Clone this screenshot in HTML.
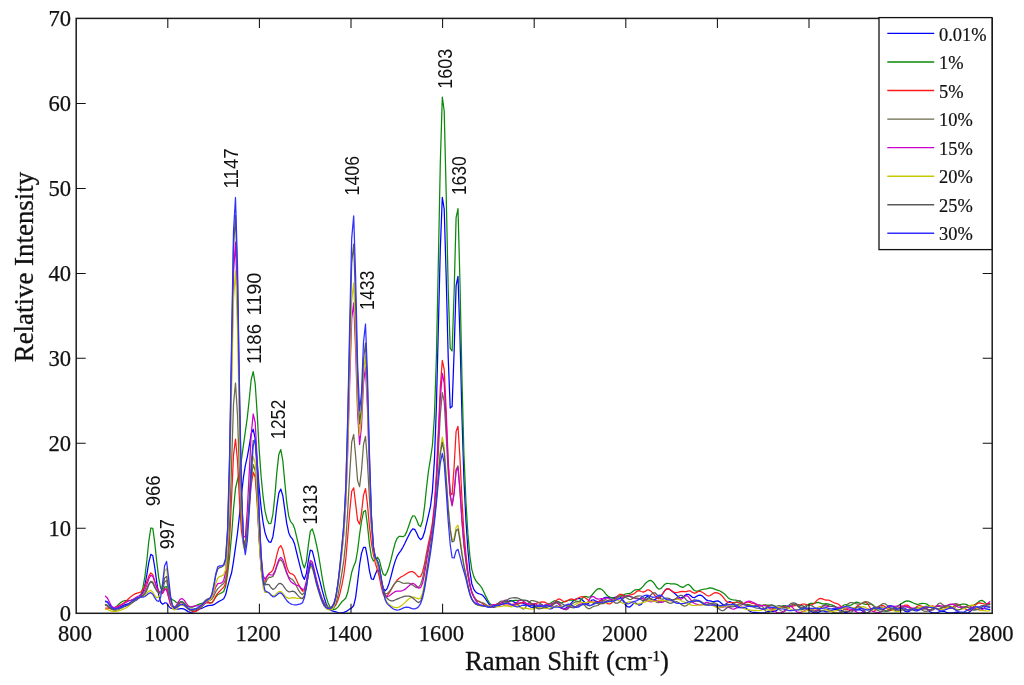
<!DOCTYPE html>
<html lang="en"><head><meta charset="utf-8"><title>Raman spectra</title>
<style>
html,body{margin:0;padding:0;background:#fff;}
body{width:1024px;height:685px;overflow:hidden;}
svg{display:block;}
.tk{font-family:"Liberation Serif",serif;font-size:22.6px;fill:#111;stroke:#111;stroke-width:0.25;}
.lb{font-family:"Liberation Serif",serif;font-size:26.4px;fill:#111;stroke:#111;stroke-width:0.3;}
.lg{font-family:"Liberation Serif",serif;font-size:18.4px;fill:#111;stroke:#111;stroke-width:0.2;}
.pk{font-family:"Liberation Sans",sans-serif;font-size:19.6px;fill:#111;}
.ax{stroke:#1c1c1c;stroke-width:1.5;fill:none;}
.tkl{stroke:#111;stroke-width:1.05;fill:none;}
.c{fill:none;stroke-width:1.25;stroke-linejoin:round;stroke-linecap:round;}
</style></head><body>
<svg width="1024" height="685" viewBox="0 0 1024 685">
<rect x="0" y="0" width="1024" height="685" fill="#fff"/>
<g class="curves">
<path class="c" stroke="#0000ff" d="M105.5,601.6 L107.5,602.2 L109.5,604.8 L111.4,607.4 L113.4,608.9 L115.4,609.1 L117.3,608.4 L119.3,607.4 L121.3,606.4 L123.2,605.5 L125.2,604.7 L127.2,604.1 L129.1,603.6 L131.1,602.8 L133.1,601.8 L135.1,600.8 L137.0,599.6 L139.0,598.1 L141.0,595.9 L142.9,592.0 L144.9,585.0 L146.9,574.4 L148.8,562.3 L150.8,554.3 L152.8,555.8 L154.7,567.0 L156.7,581.9 L158.7,594.8 L160.7,602.3 L162.6,604.2 L164.6,602.9 L166.6,603.0 L168.5,605.9 L170.5,608.2 L172.5,608.6 L174.4,608.5 L176.4,609.0 L178.4,609.1 L180.3,608.7 L182.3,608.6 L184.3,609.2 L186.3,610.4 L188.2,611.6 L190.2,612.3 L192.2,612.2 L194.1,611.6 L196.1,610.6 L198.1,609.7 L200.0,609.0 L202.0,608.2 L204.0,607.3 L206.0,606.3 L207.9,605.6 L209.9,605.4 L211.9,605.3 L213.8,604.7 L215.8,603.4 L217.8,602.1 L219.7,601.0 L221.7,600.0 L223.7,598.8 L225.6,595.0 L227.6,586.7 L229.6,579.3 L231.6,572.8 L233.5,561.3 L235.5,547.2 L237.5,533.1 L239.4,515.9 L241.4,495.5 L243.4,477.6 L245.3,465.7 L247.3,456.8 L249.3,445.7 L251.2,433.8 L253.2,429.2 L255.2,438.8 L257.2,461.5 L259.1,487.1 L261.1,507.7 L263.1,522.6 L265.0,532.6 L267.0,538.5 L269.0,541.9 L270.9,542.4 L272.9,536.7 L274.9,523.4 L276.8,506.6 L278.8,493.1 L280.8,489.1 L282.8,495.7 L284.7,509.1 L286.7,523.1 L288.7,532.7 L290.6,536.9 L292.6,539.2 L294.6,544.1 L296.5,552.0 L298.5,560.2 L300.5,568.2 L302.5,575.9 L304.4,579.4 L306.4,573.4 L308.4,560.2 L310.3,550.1 L312.3,550.9 L314.3,558.8 L316.2,567.3 L318.2,574.7 L320.2,582.2 L322.1,589.9 L324.1,597.2 L326.1,603.4 L328.1,607.7 L330.0,609.9 L332.0,610.8 L334.0,611.4 L335.9,611.9 L337.9,612.5 L339.9,612.8 L341.8,612.8 L343.8,612.4 L345.8,611.7 L347.7,610.4 L349.7,609.1 L351.7,607.9 L353.7,605.5 L355.6,597.7 L357.6,582.1 L359.6,564.7 L361.5,553.4 L363.5,547.4 L365.5,547.4 L367.4,557.2 L369.4,570.6 L371.4,579.0 L373.4,579.5 L375.3,574.3 L377.3,569.7 L379.3,571.8 L381.2,580.1 L383.2,588.0 L385.2,590.8 L387.1,588.6 L389.1,583.2 L391.1,576.1 L393.0,568.5 L395.0,561.6 L397.0,556.4 L399.0,553.2 L400.9,550.6 L402.9,547.3 L404.9,543.3 L406.8,539.2 L408.8,535.2 L410.8,531.3 L412.7,528.8 L414.7,529.4 L416.7,533.0 L418.6,537.4 L420.6,539.7 L422.6,537.8 L424.6,531.8 L426.5,523.6 L428.5,515.4 L430.5,506.4 L432.4,491.1 L434.4,460.4 L436.4,406.3 L438.3,330.1 L440.3,248.9 L442.3,197.3 L444.2,209.0 L446.2,277.2 L448.2,357.5 L450.2,408.1 L452.1,406.5 L454.1,351.9 L456.1,285.7 L458.0,276.3 L460.0,337.7 L462.0,417.4 L463.9,478.5 L465.9,519.6 L467.9,550.0 L469.9,571.4 L471.8,583.7 L473.8,589.4 L475.8,592.1 L477.7,593.4 L479.7,594.0 L481.7,594.6 L483.6,596.3 L485.6,599.0 L487.6,602.2 L489.5,604.8 L491.5,606.7 L493.5,607.4 L495.5,607.0 L497.4,605.7 L499.4,604.4 L501.4,603.8 L503.3,603.9 L505.3,603.6 L507.3,602.3 L509.2,600.9 L511.2,600.5 L513.2,601.4 L515.1,602.7 L517.1,603.3 L519.1,603.0 L521.1,602.8 L523.0,603.2 L525.0,604.1 L527.0,605.1 L528.9,606.2 L530.9,607.1 L532.9,607.3 L534.8,606.7 L536.8,605.9 L538.8,605.2 L540.7,604.8 L542.7,605.2 L544.7,606.5 L546.7,607.9 L548.6,608.7 L550.6,608.8 L552.6,608.1 L554.5,606.6 L556.5,605.8 L558.5,606.5 L560.4,607.8 L562.4,608.5 L564.4,608.5 L566.4,607.8 L568.3,606.2 L570.3,604.1 L572.3,601.9 L574.2,600.0 L576.2,598.8 L578.2,598.5 L580.1,598.7 L582.1,599.7 L584.1,601.8 L586.0,603.8 L588.0,603.8 L590.0,601.9 L592.0,600.0 L593.9,599.9 L595.9,601.2 L597.9,601.8 L599.8,601.0 L601.8,599.4 L603.8,598.1 L605.7,597.4 L607.7,597.3 L609.7,597.6 L611.6,597.9 L613.6,597.8 L615.6,597.2 L617.6,596.4 L619.5,596.5 L621.5,598.5 L623.5,601.8 L625.4,604.8 L627.4,606.7 L629.4,607.2 L631.3,605.8 L633.3,603.6 L635.3,602.8 L637.2,604.0 L639.2,605.2 L641.2,604.5 L643.2,601.7 L645.1,598.2 L647.1,596.4 L649.1,597.3 L651.0,599.2 L653.0,600.0 L655.0,599.4 L656.9,598.4 L658.9,597.4 L660.9,595.9 L662.9,593.4 L664.8,590.5 L666.8,588.8 L668.8,588.9 L670.7,590.3 L672.7,591.8 L674.7,593.4 L676.6,595.2 L678.6,597.0 L680.6,598.0 L682.5,597.4 L684.5,595.7 L686.5,594.3 L688.5,594.3 L690.4,595.6 L692.4,597.3 L694.4,597.6 L696.3,596.5 L698.3,595.4 L700.3,595.1 L702.2,595.9 L704.2,597.8 L706.2,599.9 L708.1,600.7 L710.1,600.8 L712.1,601.3 L714.1,601.6 L716.0,601.1 L718.0,600.9 L720.0,602.0 L721.9,603.9 L723.9,605.0 L725.9,604.1 L727.8,602.4 L729.8,601.7 L731.8,602.5 L733.8,604.5 L735.7,606.5 L737.7,607.6 L739.7,607.7 L741.6,607.4 L743.6,607.4 L745.6,608.0 L747.5,609.3 L749.5,611.0 L751.5,612.0 L753.4,612.3 L755.4,612.3 L757.4,612.6 L759.4,612.9 L761.3,612.9 L763.3,612.9 L765.3,612.6 L767.2,611.6 L769.2,611.1 L771.2,611.3 L773.1,611.6 L775.1,611.2 L777.1,610.1 L779.0,608.4 L781.0,606.9 L783.0,606.0 L785.0,605.9 L786.9,606.0 L788.9,606.0 L790.9,605.6 L792.8,605.0 L794.8,604.7 L796.8,605.2 L798.7,606.4 L800.7,607.5 L802.7,607.8 L804.6,607.8 L806.6,608.4 L808.6,609.8 L810.6,611.3 L812.5,612.2 L814.5,612.6 L816.5,612.9 L818.4,612.4 L820.4,611.3 L822.4,610.6 L824.3,611.2 L826.3,611.8 L828.3,611.7 L830.3,610.9 L832.2,610.1 L834.2,609.7 L836.2,609.4 L838.1,609.3 L840.1,609.6 L842.1,610.7 L844.0,612.1 L846.0,612.8 L848.0,612.0 L849.9,610.5 L851.9,609.8 L853.9,609.9 L855.9,610.1 L857.8,609.9 L859.8,609.7 L861.8,610.5 L863.7,612.4 L865.7,612.9 L867.7,612.9 L869.6,611.6 L871.6,609.1 L873.6,608.0 L875.5,608.1 L877.5,608.1 L879.5,607.5 L881.5,607.2 L883.4,607.5 L885.4,607.5 L887.4,607.3 L889.3,607.6 L891.3,608.8 L893.3,610.2 L895.2,610.6 L897.2,609.3 L899.2,607.7 L901.1,607.5 L903.1,609.2 L905.1,611.2 L907.1,612.0 L909.0,611.3 L911.0,610.4 L913.0,610.1 L914.9,610.6 L916.9,610.9 L918.9,610.1 L920.8,608.4 L922.8,607.0 L924.8,607.1 L926.8,608.9 L928.7,610.9 L930.7,612.2 L932.7,612.8 L934.6,612.9 L936.6,612.8 L938.6,612.2 L940.5,611.5 L942.5,611.1 L944.5,611.5 L946.4,612.4 L948.4,612.9 L950.4,612.9 L952.4,612.9 L954.3,612.5 L956.3,612.1 L958.3,612.5 L960.2,612.9 L962.2,612.9 L964.2,612.9 L966.1,612.9 L968.1,612.8 L970.1,611.6 L972.0,609.8 L974.0,608.1 L976.0,607.4 L978.0,607.5 L979.9,608.0 L981.9,608.4 L983.9,608.5 L985.8,608.8 L987.8,609.2 L989.8,609.5"/>
<path class="c" stroke="#0a8a0a" d="M105.5,604.7 L107.5,606.1 L109.5,608.1 L111.4,609.2 L113.4,608.8 L115.4,607.5 L117.3,605.7 L119.3,603.7 L121.3,602.0 L123.2,601.0 L125.2,600.7 L127.2,600.7 L129.1,600.6 L131.1,600.3 L133.1,599.8 L135.1,599.4 L137.0,598.8 L139.0,597.2 L141.0,594.0 L142.9,587.7 L144.9,576.6 L146.9,560.0 L148.8,541.3 L150.8,528.0 L152.8,528.4 L154.7,542.3 L156.7,561.2 L158.7,577.9 L160.7,588.3 L162.6,590.7 L164.6,587.1 L166.6,586.6 L168.5,592.7 L170.5,598.1 L172.5,599.7 L174.4,600.7 L176.4,602.5 L178.4,602.8 L180.3,601.9 L182.3,601.8 L184.3,603.2 L186.3,605.2 L188.2,606.7 L190.2,607.2 L192.2,607.1 L194.1,606.4 L196.1,605.5 L198.1,604.5 L200.0,603.8 L202.0,603.3 L204.0,602.8 L206.0,602.3 L207.9,602.3 L209.9,602.6 L211.9,602.4 L213.8,600.3 L215.8,597.0 L217.8,594.7 L219.7,593.8 L221.7,592.7 L223.7,591.4 L225.6,586.6 L227.6,573.9 L229.6,556.5 L231.6,535.1 L233.5,508.9 L235.5,488.5 L237.5,479.6 L239.4,472.5 L241.4,460.2 L243.4,445.3 L245.3,431.8 L247.3,417.6 L249.3,398.8 L251.2,379.5 L253.2,371.6 L255.2,383.8 L257.2,414.1 L259.1,448.6 L261.1,476.4 L263.1,496.7 L265.0,510.9 L267.0,519.4 L269.0,523.7 L270.9,523.3 L272.9,514.3 L274.9,495.6 L276.8,472.6 L278.8,454.4 L280.8,449.6 L282.8,460.6 L284.7,481.2 L286.7,502.2 L288.7,516.1 L290.6,521.6 L292.6,523.8 L294.6,528.4 L296.5,536.4 L298.5,544.9 L300.5,553.8 L302.5,563.2 L304.4,567.9 L306.4,561.2 L308.4,544.9 L310.3,531.1 L312.3,529.0 L314.3,535.1 L316.2,543.5 L318.2,553.2 L320.2,565.0 L322.1,577.1 L324.1,587.8 L326.1,596.5 L328.1,602.9 L330.0,606.9 L332.0,609.0 L334.0,609.6 L335.9,608.9 L337.9,607.1 L339.9,604.4 L341.8,601.8 L343.8,600.1 L345.8,598.0 L347.7,592.5 L349.7,582.7 L351.7,572.3 L353.7,566.2 L355.6,561.8 L357.6,550.5 L359.6,534.4 L361.5,521.4 L363.5,511.8 L365.5,510.5 L367.4,524.6 L369.4,543.9 L371.4,556.7 L373.4,561.0 L375.3,559.5 L377.3,557.1 L379.3,559.8 L381.2,567.6 L383.2,574.3 L385.2,575.6 L387.1,572.3 L389.1,566.5 L391.1,559.2 L393.0,551.1 L395.0,543.6 L397.0,538.5 L399.0,536.4 L400.9,536.4 L402.9,536.7 L404.9,535.4 L406.8,531.6 L408.8,525.8 L410.8,519.8 L412.7,515.8 L414.7,516.0 L416.7,520.1 L418.6,525.0 L420.6,526.5 L422.6,520.5 L424.6,506.4 L426.5,487.8 L428.5,470.9 L430.5,458.7 L432.4,445.5 L434.4,416.5 L436.4,356.8 L438.3,264.8 L440.3,162.9 L442.3,97.2 L444.2,111.0 L446.2,194.2 L448.2,289.0 L450.2,348.3 L452.1,351.0 L454.1,292.8 L456.1,217.6 L458.0,208.6 L460.0,283.7 L462.0,380.1 L463.9,453.1 L465.9,500.8 L467.9,533.9 L469.9,556.3 L471.8,569.4 L473.8,576.6 L475.8,580.6 L477.7,583.0 L479.7,585.0 L481.7,587.7 L483.6,591.5 L485.6,595.9 L487.6,599.9 L489.5,603.1 L491.5,605.0 L493.5,605.5 L495.5,605.3 L497.4,605.0 L499.4,604.5 L501.4,603.4 L503.3,602.2 L505.3,601.5 L507.3,601.4 L509.2,601.4 L511.2,601.1 L513.2,600.6 L515.1,600.3 L517.1,600.4 L519.1,600.4 L521.1,600.3 L523.0,600.2 L525.0,600.2 L527.0,600.5 L528.9,601.9 L530.9,604.1 L532.9,605.9 L534.8,606.8 L536.8,607.2 L538.8,607.1 L540.7,606.6 L542.7,606.0 L544.7,605.4 L546.7,604.8 L548.6,604.1 L550.6,603.2 L552.6,601.7 L554.5,600.7 L556.5,601.1 L558.5,602.3 L560.4,603.0 L562.4,602.6 L564.4,601.5 L566.4,600.8 L568.3,600.5 L570.3,600.1 L572.3,599.8 L574.2,600.2 L576.2,601.2 L578.2,601.7 L580.1,600.8 L582.1,598.5 L584.1,596.7 L586.0,596.5 L588.0,597.1 L590.0,596.8 L592.0,595.0 L593.9,592.6 L595.9,590.3 L597.9,588.8 L599.8,588.6 L601.8,589.5 L603.8,591.4 L605.7,593.9 L607.7,596.0 L609.7,597.1 L611.6,597.7 L613.6,598.3 L615.6,598.3 L617.6,597.4 L619.5,596.3 L621.5,595.6 L623.5,594.8 L625.4,594.0 L627.4,593.7 L629.4,593.6 L631.3,592.7 L633.3,591.0 L635.3,589.8 L637.2,589.7 L639.2,589.6 L641.2,588.4 L643.2,586.1 L645.1,583.8 L647.1,581.9 L649.1,580.6 L651.0,580.4 L653.0,581.9 L655.0,584.6 L656.9,587.6 L658.9,589.2 L660.9,588.5 L662.9,586.3 L664.8,584.3 L666.8,583.4 L668.8,583.5 L670.7,583.8 L672.7,583.8 L674.7,583.9 L676.6,584.3 L678.6,585.4 L680.6,586.7 L682.5,587.4 L684.5,586.6 L686.5,585.0 L688.5,584.4 L690.4,585.9 L692.4,588.5 L694.4,590.5 L696.3,591.1 L698.3,590.9 L700.3,590.2 L702.2,589.5 L704.2,589.2 L706.2,589.0 L708.1,588.3 L710.1,587.8 L712.1,588.1 L714.1,588.9 L716.0,589.7 L718.0,590.3 L720.0,591.0 L721.9,592.1 L723.9,593.4 L725.9,595.3 L727.8,597.4 L729.8,599.0 L731.8,599.7 L733.8,600.0 L735.7,600.2 L737.7,600.5 L739.7,601.3 L741.6,603.0 L743.6,604.4 L745.6,604.6 L747.5,604.4 L749.5,605.1 L751.5,606.2 L753.4,606.7 L755.4,606.2 L757.4,605.5 L759.4,605.4 L761.3,605.5 L763.3,605.2 L765.3,604.9 L767.2,605.1 L769.2,605.3 L771.2,605.1 L773.1,605.2 L775.1,606.3 L777.1,607.7 L779.0,608.1 L781.0,607.0 L783.0,605.8 L785.0,605.9 L786.9,607.2 L788.9,607.6 L790.9,606.1 L792.8,604.4 L794.8,604.0 L796.8,605.1 L798.7,607.1 L800.7,608.9 L802.7,609.5 L804.6,608.6 L806.6,606.4 L808.6,604.3 L810.6,603.3 L812.5,603.4 L814.5,603.4 L816.5,602.7 L818.4,602.3 L820.4,603.1 L822.4,603.9 L824.3,603.8 L826.3,603.7 L828.3,604.2 L830.3,604.7 L832.2,605.1 L834.2,606.1 L836.2,607.4 L838.1,608.0 L840.1,607.5 L842.1,606.2 L844.0,605.0 L846.0,604.5 L848.0,605.1 L849.9,605.5 L851.9,604.7 L853.9,603.2 L855.9,602.2 L857.8,602.3 L859.8,603.0 L861.8,603.5 L863.7,603.8 L865.7,604.3 L867.7,604.3 L869.6,603.9 L871.6,604.1 L873.6,605.6 L875.5,607.5 L877.5,608.7 L879.5,609.1 L881.5,609.2 L883.4,609.7 L885.4,610.5 L887.4,610.9 L889.3,610.8 L891.3,610.1 L893.3,608.9 L895.2,607.7 L897.2,606.4 L899.2,605.0 L901.1,603.7 L903.1,602.6 L905.1,601.4 L907.1,600.8 L909.0,601.1 L911.0,601.9 L913.0,602.8 L914.9,603.7 L916.9,604.3 L918.9,604.2 L920.8,603.6 L922.8,603.4 L924.8,603.5 L926.8,604.1 L928.7,605.5 L930.7,607.1 L932.7,607.8 L934.6,607.3 L936.6,606.4 L938.6,606.2 L940.5,606.9 L942.5,607.5 L944.5,607.5 L946.4,607.4 L948.4,607.5 L950.4,607.9 L952.4,608.1 L954.3,607.5 L956.3,606.3 L958.3,605.2 L960.2,604.5 L962.2,604.1 L964.2,604.0 L966.1,604.4 L968.1,605.4 L970.1,606.2 L972.0,606.0 L974.0,605.0 L976.0,603.8 L978.0,602.3 L979.9,600.8 L981.9,600.4 L983.9,601.5 L985.8,603.3 L987.8,604.3 L989.8,603.9"/>
<path class="c" stroke="#ff1a1a" d="M105.5,608.2 L107.5,608.0 L109.5,608.4 L111.4,608.6 L113.4,608.4 L115.4,607.6 L117.3,606.6 L119.3,605.6 L121.3,604.5 L123.2,603.2 L125.2,601.8 L127.2,600.0 L129.1,598.2 L131.1,596.4 L133.1,595.0 L135.1,593.9 L137.0,593.2 L139.0,592.7 L141.0,591.8 L142.9,589.9 L144.9,586.6 L146.9,581.6 L148.8,576.1 L150.8,572.9 L152.8,574.8 L154.7,581.0 L156.7,587.3 L158.7,591.4 L160.7,593.7 L162.6,592.7 L164.6,588.7 L166.6,589.1 L168.5,596.9 L170.5,604.3 L172.5,607.3 L174.4,607.7 L176.4,607.3 L178.4,605.9 L180.3,604.4 L182.3,604.2 L184.3,605.4 L186.3,607.1 L188.2,608.9 L190.2,610.3 L192.2,611.3 L194.1,611.6 L196.1,611.3 L198.1,610.2 L200.0,608.4 L202.0,606.2 L204.0,604.1 L206.0,602.8 L207.9,602.6 L209.9,603.1 L211.9,602.8 L213.8,600.1 L215.8,596.1 L217.8,593.1 L219.7,591.2 L221.7,589.1 L223.7,587.3 L225.6,583.3 L227.6,569.2 L229.6,539.9 L231.6,497.5 L233.5,455.2 L235.5,439.1 L237.5,460.7 L239.4,499.5 L241.4,530.8 L243.4,544.1 L245.3,541.2 L247.3,527.3 L249.3,506.6 L251.2,485.1 L253.2,472.2 L255.2,477.3 L257.2,503.1 L259.1,538.8 L261.1,567.9 L263.1,581.2 L265.0,581.2 L267.0,576.4 L269.0,573.3 L270.9,572.3 L272.9,569.8 L274.9,563.7 L276.8,555.2 L278.8,547.9 L280.8,545.6 L282.8,549.7 L284.7,558.0 L286.7,566.5 L288.7,571.9 L290.6,573.7 L292.6,574.1 L294.6,576.0 L296.5,580.1 L298.5,584.4 L300.5,588.1 L302.5,591.1 L304.4,590.6 L306.4,583.2 L308.4,571.0 L310.3,562.9 L312.3,564.8 L314.3,572.7 L316.2,580.7 L318.2,587.7 L320.2,594.5 L322.1,600.7 L324.1,605.0 L326.1,607.3 L328.1,608.3 L330.0,608.7 L332.0,608.5 L334.0,607.5 L335.9,604.9 L337.9,600.3 L339.9,593.7 L341.8,585.6 L343.8,575.0 L345.8,559.2 L347.7,537.0 L349.7,511.7 L351.7,491.3 L353.7,487.9 L355.6,503.4 L357.6,520.4 L359.6,524.1 L361.5,513.0 L363.5,495.1 L365.5,488.6 L367.4,503.8 L369.4,526.1 L371.4,542.9 L373.4,554.6 L375.3,563.2 L377.3,569.5 L379.3,576.8 L381.2,586.3 L383.2,594.3 L385.2,597.3 L387.1,596.0 L389.1,592.9 L391.1,589.6 L393.0,586.2 L395.0,583.0 L397.0,580.3 L399.0,578.4 L400.9,577.0 L402.9,576.0 L404.9,574.8 L406.8,573.5 L408.8,572.3 L410.8,571.6 L412.7,571.7 L414.7,572.9 L416.7,575.1 L418.6,577.0 L420.6,576.4 L422.6,572.0 L424.6,563.6 L426.5,553.0 L428.5,542.8 L430.5,533.8 L432.4,522.8 L434.4,504.4 L436.4,474.0 L438.3,432.0 L440.3,387.6 L442.3,360.3 L444.2,369.5 L446.2,411.4 L448.2,460.5 L450.2,492.8 L452.1,494.8 L454.1,466.7 L456.1,431.4 L458.0,426.3 L460.0,458.7 L462.0,500.3 L463.9,532.1 L465.9,554.1 L467.9,571.1 L469.9,583.8 L471.8,591.8 L473.8,596.5 L475.8,599.4 L477.7,600.9 L479.7,601.7 L481.7,602.8 L483.6,604.5 L485.6,605.9 L487.6,606.6 L489.5,606.8 L491.5,606.7 L493.5,606.1 L495.5,604.8 L497.4,603.6 L499.4,603.4 L501.4,604.0 L503.3,604.8 L505.3,605.1 L507.3,605.2 L509.2,605.0 L511.2,604.5 L513.2,604.2 L515.1,604.1 L517.1,604.1 L519.1,603.7 L521.1,602.9 L523.0,602.4 L525.0,602.8 L527.0,604.0 L528.9,604.8 L530.9,605.0 L532.9,604.6 L534.8,604.0 L536.8,603.2 L538.8,602.6 L540.7,602.1 L542.7,601.9 L544.7,602.1 L546.7,603.2 L548.6,604.8 L550.6,605.8 L552.6,605.3 L554.5,603.0 L556.5,600.3 L558.5,598.9 L560.4,599.3 L562.4,600.8 L564.4,601.8 L566.4,601.4 L568.3,600.0 L570.3,599.0 L572.3,599.2 L574.2,599.7 L576.2,599.3 L578.2,598.0 L580.1,597.0 L582.1,596.7 L584.1,597.2 L586.0,598.3 L588.0,600.0 L590.0,601.4 L592.0,602.0 L593.9,602.0 L595.9,602.0 L597.9,601.8 L599.8,601.1 L601.8,600.4 L603.8,600.8 L605.7,602.3 L607.7,603.7 L609.7,604.0 L611.6,602.9 L613.6,600.8 L615.6,598.2 L617.6,595.9 L619.5,594.4 L621.5,594.4 L623.5,595.3 L625.4,596.0 L627.4,595.8 L629.4,595.1 L631.3,594.7 L633.3,594.2 L635.3,592.7 L637.2,591.1 L639.2,590.6 L641.2,591.5 L643.2,592.2 L645.1,591.4 L647.1,589.9 L649.1,589.9 L651.0,591.3 L653.0,593.1 L655.0,595.6 L656.9,598.1 L658.9,598.9 L660.9,596.9 L662.9,593.5 L664.8,590.6 L666.8,589.1 L668.8,588.9 L670.7,590.0 L672.7,591.6 L674.7,592.5 L676.6,592.6 L678.6,592.2 L680.6,591.6 L682.5,591.3 L684.5,591.6 L686.5,591.7 L688.5,590.9 L690.4,590.9 L692.4,592.4 L694.4,593.3 L696.3,592.6 L698.3,591.4 L700.3,591.4 L702.2,592.3 L704.2,593.5 L706.2,595.0 L708.1,596.0 L710.1,595.6 L712.1,594.2 L714.1,592.9 L716.0,592.6 L718.0,593.1 L720.0,594.0 L721.9,595.7 L723.9,598.2 L725.9,600.8 L727.8,602.3 L729.8,602.5 L731.8,602.5 L733.8,602.5 L735.7,602.4 L737.7,602.5 L739.7,602.8 L741.6,603.4 L743.6,603.6 L745.6,602.7 L747.5,602.0 L749.5,602.5 L751.5,603.2 L753.4,603.5 L755.4,604.2 L757.4,605.4 L759.4,606.1 L761.3,605.9 L763.3,605.4 L765.3,605.3 L767.2,605.9 L769.2,606.9 L771.2,608.0 L773.1,608.7 L775.1,608.8 L777.1,608.5 L779.0,607.9 L781.0,607.1 L783.0,606.5 L785.0,606.7 L786.9,607.1 L788.9,606.9 L790.9,606.5 L792.8,606.1 L794.8,605.7 L796.8,605.5 L798.7,605.2 L800.7,604.7 L802.7,604.0 L804.6,604.0 L806.6,604.6 L808.6,605.0 L810.6,605.0 L812.5,604.6 L814.5,603.2 L816.5,600.9 L818.4,599.1 L820.4,598.4 L822.4,598.8 L824.3,599.6 L826.3,600.1 L828.3,600.2 L830.3,600.7 L832.2,601.8 L834.2,602.8 L836.2,603.3 L838.1,604.0 L840.1,605.6 L842.1,607.5 L844.0,608.8 L846.0,609.3 L848.0,609.8 L849.9,610.2 L851.9,610.0 L853.9,608.8 L855.9,607.2 L857.8,605.7 L859.8,604.5 L861.8,603.3 L863.7,602.3 L865.7,602.1 L867.7,603.7 L869.6,607.0 L871.6,610.4 L873.6,611.7 L875.5,610.2 L877.5,607.6 L879.5,605.9 L881.5,605.4 L883.4,605.7 L885.4,606.9 L887.4,608.9 L889.3,610.3 L891.3,610.2 L893.3,609.2 L895.2,608.5 L897.2,608.5 L899.2,608.2 L901.1,607.2 L903.1,606.0 L905.1,605.2 L907.1,605.1 L909.0,606.1 L911.0,607.9 L913.0,609.1 L914.9,608.3 L916.9,606.5 L918.9,605.5 L920.8,605.9 L922.8,606.8 L924.8,607.5 L926.8,607.7 L928.7,607.4 L930.7,606.4 L932.7,605.8 L934.6,606.7 L936.6,608.6 L938.6,609.7 L940.5,609.1 L942.5,607.6 L944.5,607.0 L946.4,607.4 L948.4,608.2 L950.4,608.5 L952.4,607.6 L954.3,605.8 L956.3,604.4 L958.3,604.4 L960.2,605.7 L962.2,607.0 L964.2,608.1 L966.1,609.4 L968.1,610.4 L970.1,609.9 L972.0,608.2 L974.0,606.2 L976.0,604.5 L978.0,603.2 L979.9,602.8 L981.9,603.3 L983.9,603.9 L985.8,604.0 L987.8,603.5 L989.8,603.3"/>
<path class="c" stroke="#6a6a4c" d="M105.5,604.5 L107.5,605.2 L109.5,607.2 L111.4,609.1 L113.4,610.1 L115.4,610.3 L117.3,610.0 L119.3,609.2 L121.3,608.2 L123.2,607.1 L125.2,606.1 L127.2,605.2 L129.1,604.4 L131.1,603.4 L133.1,602.0 L135.1,600.5 L137.0,599.0 L139.0,597.9 L141.0,597.0 L142.9,596.1 L144.9,594.1 L146.9,590.2 L148.8,585.0 L150.8,581.3 L152.8,581.9 L154.7,586.0 L156.7,590.3 L158.7,592.9 L160.7,593.8 L162.6,590.1 L164.6,582.1 L166.6,580.4 L168.5,590.0 L170.5,601.0 L172.5,606.5 L174.4,607.4 L176.4,606.0 L178.4,603.9 L180.3,602.4 L182.3,602.5 L184.3,604.4 L186.3,606.6 L188.2,608.3 L190.2,609.1 L192.2,609.2 L194.1,608.9 L196.1,608.5 L198.1,608.2 L200.0,607.7 L202.0,606.4 L204.0,604.5 L206.0,602.4 L207.9,600.9 L209.9,600.3 L211.9,599.3 L213.8,596.1 L215.8,591.7 L217.8,588.6 L219.7,586.9 L221.7,585.0 L223.7,583.4 L225.6,579.7 L227.6,563.4 L229.6,524.2 L231.6,463.7 L233.5,404.2 L235.5,383.0 L237.5,415.2 L239.4,472.5 L241.4,519.9 L243.4,542.2 L245.3,541.7 L247.3,526.0 L249.3,502.2 L251.2,478.1 L253.2,464.5 L255.2,470.7 L257.2,499.0 L259.1,537.8 L261.1,569.3 L263.1,583.9 L265.0,584.3 L267.0,579.7 L269.0,577.2 L270.9,577.3 L272.9,576.4 L274.9,572.4 L276.8,566.5 L278.8,561.3 L280.8,559.7 L282.8,562.4 L284.7,567.9 L286.7,573.4 L288.7,577.0 L290.6,578.5 L292.6,579.6 L294.6,582.3 L296.5,586.3 L298.5,590.1 L300.5,593.1 L302.5,594.7 L304.4,592.5 L306.4,583.6 L308.4,570.6 L310.3,562.2 L312.3,564.1 L314.3,572.3 L316.2,580.6 L318.2,587.4 L320.2,593.4 L322.1,598.5 L324.1,602.4 L326.1,605.1 L328.1,606.9 L330.0,608.2 L332.0,608.8 L334.0,607.6 L335.9,603.5 L337.9,595.7 L339.9,585.1 L341.8,573.6 L343.8,560.5 L345.8,541.0 L347.7,511.3 L349.7,474.3 L351.7,442.2 L353.7,434.5 L355.6,455.7 L357.6,480.6 L359.6,486.7 L361.5,470.6 L363.5,444.7 L365.5,436.3 L367.4,461.1 L369.4,498.3 L371.4,527.6 L373.4,546.0 L375.3,557.0 L377.3,563.8 L379.3,571.3 L381.2,581.4 L383.2,590.0 L385.2,593.7 L387.1,593.6 L389.1,591.8 L391.1,589.2 L393.0,586.2 L395.0,583.2 L397.0,581.4 L399.0,581.3 L400.9,582.3 L402.9,583.1 L404.9,583.3 L406.8,583.1 L408.8,583.2 L410.8,583.9 L412.7,585.1 L414.7,586.6 L416.7,587.6 L418.6,587.2 L420.6,584.5 L422.6,578.1 L424.6,568.2 L426.5,556.7 L428.5,546.2 L430.5,537.5 L432.4,527.7 L434.4,512.3 L436.4,487.1 L438.3,452.1 L440.3,414.9 L442.3,392.7 L444.2,401.5 L446.2,435.8 L448.2,471.9 L450.2,495.5 L452.1,504.6 L454.1,492.7 L456.1,469.5 L458.0,465.8 L460.0,490.2 L462.0,521.5 L463.9,545.1 L465.9,561.7 L467.9,575.1 L469.9,585.3 L471.8,592.1 L473.8,596.4 L475.8,599.4 L477.7,601.2 L479.7,602.0 L481.7,602.5 L483.6,603.1 L485.6,604.2 L487.6,605.7 L489.5,606.8 L491.5,606.9 L493.5,605.9 L495.5,604.9 L497.4,604.3 L499.4,603.8 L501.4,603.1 L503.3,602.3 L505.3,602.0 L507.3,602.5 L509.2,603.7 L511.2,605.0 L513.2,605.4 L515.1,604.8 L517.1,604.4 L519.1,605.6 L521.1,607.8 L523.0,609.1 L525.0,608.1 L527.0,605.2 L528.9,602.2 L530.9,600.7 L532.9,600.6 L534.8,601.1 L536.8,601.6 L538.8,602.5 L540.7,603.8 L542.7,605.3 L544.7,605.9 L546.7,605.0 L548.6,603.6 L550.6,603.3 L552.6,603.7 L554.5,603.7 L556.5,603.1 L558.5,603.1 L560.4,604.7 L562.4,607.4 L564.4,609.5 L566.4,609.8 L568.3,608.6 L570.3,606.2 L572.3,603.7 L574.2,602.4 L576.2,602.0 L578.2,601.7 L580.1,601.7 L582.1,602.7 L584.1,604.7 L586.0,607.0 L588.0,608.6 L590.0,608.6 L592.0,607.3 L593.9,606.2 L595.9,605.9 L597.9,605.5 L599.8,603.9 L601.8,601.7 L603.8,600.0 L605.7,599.7 L607.7,600.6 L609.7,601.4 L611.6,601.3 L613.6,600.4 L615.6,598.9 L617.6,597.2 L619.5,596.1 L621.5,596.0 L623.5,596.3 L625.4,597.0 L627.4,598.4 L629.4,599.5 L631.3,599.3 L633.3,598.0 L635.3,596.8 L637.2,596.2 L639.2,595.8 L641.2,596.0 L643.2,597.3 L645.1,598.9 L647.1,599.3 L649.1,598.8 L651.0,598.6 L653.0,599.6 L655.0,601.2 L656.9,602.4 L658.9,602.7 L660.9,601.9 L662.9,601.0 L664.8,601.0 L666.8,601.9 L668.8,602.9 L670.7,603.3 L672.7,602.7 L674.7,601.8 L676.6,601.6 L678.6,602.5 L680.6,603.9 L682.5,605.4 L684.5,606.1 L686.5,605.6 L688.5,604.2 L690.4,602.7 L692.4,601.8 L694.4,601.4 L696.3,601.1 L698.3,601.0 L700.3,601.4 L702.2,602.3 L704.2,603.6 L706.2,604.6 L708.1,604.8 L710.1,604.3 L712.1,603.3 L714.1,602.7 L716.0,603.5 L718.0,605.3 L720.0,606.4 L721.9,606.1 L723.9,605.0 L725.9,604.3 L727.8,604.4 L729.8,604.6 L731.8,604.6 L733.8,604.0 L735.7,602.6 L737.7,601.0 L739.7,600.5 L741.6,601.8 L743.6,603.6 L745.6,604.7 L747.5,605.0 L749.5,605.0 L751.5,605.3 L753.4,605.8 L755.4,605.9 L757.4,605.4 L759.4,604.8 L761.3,605.4 L763.3,607.6 L765.3,610.6 L767.2,612.5 L769.2,612.5 L771.2,611.0 L773.1,609.2 L775.1,608.3 L777.1,608.5 L779.0,609.5 L781.0,610.8 L783.0,611.7 L785.0,611.2 L786.9,609.4 L788.9,607.3 L790.9,605.7 L792.8,604.5 L794.8,604.4 L796.8,605.5 L798.7,606.8 L800.7,607.4 L802.7,607.1 L804.6,606.3 L806.6,605.4 L808.6,604.9 L810.6,605.1 L812.5,606.1 L814.5,607.6 L816.5,609.0 L818.4,610.1 L820.4,610.7 L822.4,610.6 L824.3,610.0 L826.3,609.5 L828.3,609.5 L830.3,610.5 L832.2,611.9 L834.2,612.9 L836.2,612.9 L838.1,612.9 L840.1,612.9 L842.1,611.9 L844.0,609.1 L846.0,606.2 L848.0,603.9 L849.9,602.7 L851.9,602.5 L853.9,603.0 L855.9,603.7 L857.8,604.1 L859.8,604.2 L861.8,603.5 L863.7,602.3 L865.7,601.7 L867.7,601.9 L869.6,602.8 L871.6,604.3 L873.6,606.0 L875.5,607.0 L877.5,606.9 L879.5,605.9 L881.5,604.4 L883.4,603.5 L885.4,603.9 L887.4,605.4 L889.3,606.7 L891.3,607.1 L893.3,606.9 L895.2,607.0 L897.2,608.1 L899.2,609.0 L901.1,608.7 L903.1,607.4 L905.1,606.6 L907.1,606.9 L909.0,607.9 L911.0,608.5 L913.0,608.5 L914.9,608.0 L916.9,607.6 L918.9,608.0 L920.8,609.1 L922.8,610.5 L924.8,611.4 L926.8,611.3 L928.7,610.6 L930.7,610.4 L932.7,610.2 L934.6,608.7 L936.6,605.9 L938.6,603.5 L940.5,603.0 L942.5,604.4 L944.5,606.0 L946.4,606.1 L948.4,605.3 L950.4,604.7 L952.4,604.4 L954.3,603.9 L956.3,603.7 L958.3,604.5 L960.2,606.1 L962.2,607.1 L964.2,607.0 L966.1,606.4 L968.1,606.2 L970.1,606.9 L972.0,608.4 L974.0,609.4 L976.0,609.3 L978.0,608.1 L979.9,606.5 L981.9,605.5 L983.9,605.5 L985.8,606.0 L987.8,606.4 L989.8,606.4"/>
<path class="c" stroke="#cc00cc" d="M105.5,596.2 L107.5,598.2 L109.5,602.3 L111.4,605.9 L113.4,607.4 L115.4,607.4 L117.3,606.8 L119.3,606.1 L121.3,605.2 L123.2,604.1 L125.2,602.8 L127.2,601.6 L129.1,600.7 L131.1,600.1 L133.1,599.2 L135.1,598.0 L137.0,596.8 L139.0,595.7 L141.0,594.5 L142.9,592.9 L144.9,589.9 L146.9,584.7 L148.8,578.8 L150.8,575.2 L152.8,576.4 L154.7,581.6 L156.7,586.9 L158.7,590.8 L160.7,593.7 L162.6,593.5 L164.6,589.6 L166.6,589.3 L168.5,596.6 L170.5,604.3 L172.5,607.7 L174.4,607.6 L176.4,605.4 L178.4,601.9 L180.3,599.1 L182.3,598.6 L184.3,600.4 L186.3,603.3 L188.2,605.8 L190.2,606.9 L192.2,606.6 L194.1,606.0 L196.1,605.7 L198.1,605.8 L200.0,605.7 L202.0,605.0 L204.0,603.7 L206.0,602.3 L207.9,601.1 L209.9,600.0 L211.9,597.6 L213.8,592.7 L215.8,586.8 L217.8,583.7 L219.7,583.3 L221.7,582.9 L223.7,580.7 L225.6,571.5 L227.6,540.6 L229.6,472.2 L231.6,369.9 L233.5,272.9 L235.5,242.2 L237.5,301.9 L239.4,405.2 L241.4,492.8 L243.4,536.3 L245.3,537.2 L247.3,510.4 L249.3,471.2 L251.2,434.0 L253.2,414.0 L255.2,422.5 L257.2,460.8 L259.1,512.4 L261.1,554.3 L263.1,575.6 L265.0,579.3 L267.0,576.1 L269.0,574.2 L270.9,575.0 L272.9,574.9 L274.9,571.4 L276.8,565.4 L278.8,559.7 L280.8,557.4 L282.8,559.6 L284.7,565.3 L286.7,572.3 L288.7,578.1 L290.6,581.5 L292.6,583.1 L294.6,584.2 L296.5,585.1 L298.5,585.8 L300.5,587.3 L302.5,589.5 L304.4,588.9 L306.4,581.3 L308.4,568.8 L310.3,560.3 L312.3,561.9 L314.3,569.8 L316.2,578.4 L318.2,586.1 L320.2,593.3 L322.1,599.5 L324.1,604.1 L326.1,607.2 L328.1,608.7 L330.0,608.5 L332.0,606.6 L334.0,603.1 L335.9,596.4 L337.9,584.8 L339.9,569.1 L341.8,552.4 L343.8,533.6 L345.8,503.3 L347.7,451.9 L349.7,382.4 L351.7,319.0 L353.7,303.0 L355.6,349.0 L357.6,413.1 L359.6,444.5 L361.5,426.3 L363.5,383.0 L365.5,367.1 L367.4,406.6 L369.4,470.1 L371.4,520.8 L373.4,548.0 L375.3,557.9 L377.3,561.4 L379.3,567.8 L381.2,578.8 L383.2,589.4 L385.2,595.3 L387.1,596.7 L389.1,596.0 L391.1,594.6 L393.0,593.1 L395.0,591.7 L397.0,591.1 L399.0,591.1 L400.9,591.1 L402.9,590.5 L404.9,589.4 L406.8,587.8 L408.8,586.0 L410.8,584.2 L412.7,583.3 L414.7,584.2 L416.7,586.3 L418.6,588.2 L420.6,587.7 L422.6,583.0 L424.6,573.7 L426.5,561.5 L428.5,549.6 L430.5,539.1 L432.4,527.3 L434.4,508.8 L436.4,479.4 L438.3,439.6 L440.3,398.3 L442.3,373.4 L444.2,382.9 L446.2,421.9 L448.2,465.1 L450.2,494.8 L452.1,505.8 L454.1,493.7 L456.1,470.9 L458.0,467.6 L460.0,491.3 L462.0,520.8 L463.9,543.1 L465.9,559.7 L467.9,574.2 L469.9,585.6 L471.8,592.8 L473.8,597.3 L475.8,600.7 L477.7,603.3 L479.7,604.8 L481.7,605.3 L483.6,605.7 L485.6,606.4 L487.6,606.7 L489.5,606.0 L491.5,605.1 L493.5,604.7 L495.5,604.7 L497.4,604.4 L499.4,603.8 L501.4,602.9 L503.3,601.4 L505.3,600.1 L507.3,600.5 L509.2,602.8 L511.2,605.0 L513.2,605.3 L515.1,604.1 L517.1,602.3 L519.1,600.5 L521.1,599.8 L523.0,600.9 L525.0,602.6 L527.0,603.6 L528.9,603.9 L530.9,603.8 L532.9,603.5 L534.8,603.8 L536.8,604.8 L538.8,606.0 L540.7,606.3 L542.7,605.8 L544.7,605.1 L546.7,604.8 L548.6,605.0 L550.6,605.0 L552.6,603.7 L554.5,602.3 L556.5,602.2 L558.5,604.0 L560.4,606.5 L562.4,608.7 L564.4,609.5 L566.4,608.8 L568.3,607.7 L570.3,607.2 L572.3,607.1 L574.2,607.0 L576.2,606.3 L578.2,605.1 L580.1,604.0 L582.1,603.9 L584.1,604.4 L586.0,604.2 L588.0,601.9 L590.0,598.4 L592.0,596.3 L593.9,596.8 L595.9,598.4 L597.9,599.1 L599.8,598.9 L601.8,598.6 L603.8,598.6 L605.7,598.2 L607.7,598.0 L609.7,598.7 L611.6,599.7 L613.6,600.2 L615.6,599.7 L617.6,599.0 L619.5,598.6 L621.5,598.1 L623.5,597.0 L625.4,596.1 L627.4,595.8 L629.4,596.2 L631.3,596.9 L633.3,597.6 L635.3,598.4 L637.2,598.8 L639.2,598.6 L641.2,598.4 L643.2,598.9 L645.1,599.8 L647.1,600.7 L649.1,601.5 L651.0,601.9 L653.0,601.5 L655.0,600.7 L656.9,600.6 L658.9,601.6 L660.9,602.4 L662.9,602.1 L664.8,600.9 L666.8,599.9 L668.8,600.0 L670.7,600.7 L672.7,600.7 L674.7,599.6 L676.6,598.6 L678.6,598.7 L680.6,599.3 L682.5,598.5 L684.5,596.5 L686.5,595.6 L688.5,596.8 L690.4,599.3 L692.4,601.9 L694.4,603.5 L696.3,604.2 L698.3,604.6 L700.3,605.0 L702.2,604.7 L704.2,603.5 L706.2,602.4 L708.1,602.6 L710.1,603.7 L712.1,604.7 L714.1,605.2 L716.0,605.9 L718.0,607.0 L720.0,607.6 L721.9,607.3 L723.9,606.9 L725.9,606.8 L727.8,607.0 L729.8,607.8 L731.8,608.8 L733.8,609.2 L735.7,608.4 L737.7,607.0 L739.7,605.8 L741.6,605.0 L743.6,603.9 L745.6,602.4 L747.5,601.3 L749.5,601.1 L751.5,601.7 L753.4,602.6 L755.4,603.5 L757.4,604.5 L759.4,605.4 L761.3,605.8 L763.3,605.5 L765.3,605.5 L767.2,606.7 L769.2,608.3 L771.2,609.4 L773.1,610.2 L775.1,611.3 L777.1,612.8 L779.0,612.9 L781.0,612.9 L783.0,612.2 L785.0,610.3 L786.9,608.1 L788.9,606.3 L790.9,606.2 L792.8,607.8 L794.8,610.2 L796.8,611.8 L798.7,612.4 L800.7,612.3 L802.7,611.7 L804.6,610.5 L806.6,609.0 L808.6,608.3 L810.6,608.6 L812.5,609.4 L814.5,610.4 L816.5,610.8 L818.4,610.0 L820.4,607.9 L822.4,606.0 L824.3,605.6 L826.3,606.2 L828.3,606.6 L830.3,606.5 L832.2,606.4 L834.2,606.7 L836.2,607.1 L838.1,607.3 L840.1,607.1 L842.1,607.0 L844.0,607.2 L846.0,607.8 L848.0,608.5 L849.9,609.1 L851.9,609.7 L853.9,610.4 L855.9,611.6 L857.8,612.8 L859.8,612.9 L861.8,612.8 L863.7,611.1 L865.7,609.4 L867.7,608.9 L869.6,609.7 L871.6,610.8 L873.6,611.7 L875.5,612.1 L877.5,612.4 L879.5,612.5 L881.5,611.6 L883.4,609.8 L885.4,608.3 L887.4,607.4 L889.3,606.6 L891.3,606.1 L893.3,606.2 L895.2,606.3 L897.2,606.0 L899.2,605.9 L901.1,606.0 L903.1,606.1 L905.1,606.3 L907.1,606.8 L909.0,607.4 L911.0,607.8 L913.0,608.1 L914.9,608.7 L916.9,609.4 L918.9,609.5 L920.8,609.0 L922.8,608.6 L924.8,608.6 L926.8,609.1 L928.7,609.8 L930.7,609.9 L932.7,608.7 L934.6,606.9 L936.6,605.8 L938.6,605.6 L940.5,605.9 L942.5,606.2 L944.5,606.2 L946.4,605.8 L948.4,604.8 L950.4,604.1 L952.4,604.0 L954.3,604.8 L956.3,606.1 L958.3,607.2 L960.2,607.4 L962.2,607.2 L964.2,606.9 L966.1,606.5 L968.1,606.4 L970.1,606.9 L972.0,607.5 L974.0,607.9 L976.0,608.5 L978.0,609.4 L979.9,610.1 L981.9,609.9 L983.9,608.5 L985.8,606.1 L987.8,603.5 L989.8,601.6"/>
<path class="c" stroke="#c8c800" d="M105.5,609.2 L107.5,609.5 L109.5,610.4 L111.4,611.1 L113.4,611.4 L115.4,611.3 L117.3,611.1 L119.3,610.6 L121.3,610.0 L123.2,609.2 L125.2,608.3 L127.2,607.2 L129.1,605.5 L131.1,603.4 L133.1,601.3 L135.1,599.5 L137.0,598.2 L139.0,597.3 L141.0,597.1 L142.9,596.7 L144.9,595.5 L146.9,593.4 L148.8,591.1 L150.8,590.3 L152.8,592.1 L154.7,595.5 L156.7,597.6 L158.7,597.1 L160.7,593.6 L162.6,584.2 L164.6,571.0 L166.6,568.6 L168.5,583.1 L170.5,599.7 L172.5,608.3 L174.4,610.0 L176.4,608.7 L178.4,606.7 L180.3,605.2 L182.3,604.9 L184.3,605.9 L186.3,607.7 L188.2,609.2 L190.2,610.2 L192.2,610.5 L194.1,610.2 L196.1,609.4 L198.1,608.2 L200.0,606.7 L202.0,604.9 L204.0,603.1 L206.0,601.5 L207.9,600.7 L209.9,600.1 L211.9,597.5 L213.8,591.3 L215.8,583.2 L217.8,578.0 L219.7,576.6 L221.7,575.8 L223.7,574.9 L225.6,569.7 L227.6,544.5 L229.6,482.9 L231.6,388.5 L233.5,298.9 L235.5,271.2 L237.5,327.4 L239.4,423.5 L241.4,505.2 L243.4,546.8 L245.3,550.8 L247.3,531.1 L249.3,500.9 L251.2,472.1 L253.2,456.5 L255.2,463.0 L257.2,492.9 L259.1,533.9 L261.1,568.2 L263.1,587.0 L265.0,592.5 L267.0,592.3 L269.0,592.6 L270.9,594.5 L272.9,596.0 L274.9,595.4 L276.8,593.4 L278.8,591.6 L280.8,591.6 L282.8,593.3 L284.7,595.8 L286.7,597.7 L288.7,598.4 L290.6,598.0 L292.6,597.7 L294.6,597.9 L296.5,598.2 L298.5,598.4 L300.5,598.5 L302.5,598.5 L304.4,595.5 L306.4,586.9 L308.4,574.7 L310.3,566.8 L312.3,568.4 L314.3,575.8 L316.2,583.7 L318.2,590.5 L320.2,596.7 L322.1,602.1 L324.1,606.1 L326.1,608.4 L328.1,609.6 L330.0,610.0 L332.0,609.3 L334.0,606.4 L335.9,599.5 L337.9,587.2 L339.9,571.0 L341.8,553.7 L343.8,533.6 L345.8,500.6 L347.7,444.7 L349.7,369.4 L351.7,300.6 L353.7,282.9 L355.6,331.9 L357.6,400.7 L359.6,435.0 L361.5,416.5 L363.5,371.9 L365.5,356.1 L367.4,398.2 L369.4,465.5 L371.4,519.7 L373.4,549.0 L375.3,559.5 L377.3,562.7 L379.3,568.7 L381.2,580.0 L383.2,591.5 L385.2,598.9 L387.1,602.5 L389.1,604.4 L391.1,605.8 L393.0,606.9 L395.0,607.6 L397.0,607.7 L399.0,607.1 L400.9,605.9 L402.9,604.4 L404.9,602.6 L406.8,600.7 L408.8,599.0 L410.8,597.7 L412.7,597.0 L414.7,597.2 L416.7,598.2 L418.6,599.0 L420.6,597.9 L422.6,593.0 L424.6,583.6 L426.5,571.3 L428.5,558.9 L430.5,547.3 L432.4,534.8 L434.4,519.0 L436.4,498.6 L438.3,474.2 L440.3,450.1 L442.3,437.1 L444.2,446.8 L446.2,475.7 L448.2,506.3 L450.2,528.2 L452.1,540.5 L454.1,538.6 L456.1,527.4 L458.0,525.2 L460.0,537.4 L462.0,552.7 L463.9,564.5 L465.9,574.7 L467.9,585.0 L469.9,593.5 L471.8,599.1 L473.8,602.4 L475.8,604.3 L477.7,605.2 L479.7,605.6 L481.7,605.9 L483.6,606.2 L485.6,606.5 L487.6,606.3 L489.5,606.2 L491.5,606.4 L493.5,606.7 L495.5,606.8 L497.4,606.7 L499.4,606.7 L501.4,606.5 L503.3,606.0 L505.3,605.6 L507.3,605.8 L509.2,606.4 L511.2,606.8 L513.2,606.5 L515.1,605.9 L517.1,605.9 L519.1,606.7 L521.1,607.6 L523.0,608.1 L525.0,608.3 L527.0,608.4 L528.9,608.8 L530.9,609.2 L532.9,609.0 L534.8,608.2 L536.8,607.7 L538.8,607.8 L540.7,608.2 L542.7,608.4 L544.7,608.5 L546.7,608.7 L548.6,608.5 L550.6,607.9 L552.6,607.3 L554.5,606.7 L556.5,606.4 L558.5,606.3 L560.4,606.5 L562.4,606.3 L564.4,605.8 L566.4,605.5 L568.3,605.8 L570.3,606.3 L572.3,606.1 L574.2,605.0 L576.2,603.8 L578.2,603.0 L580.1,602.5 L582.1,602.4 L584.1,602.6 L586.0,602.6 L588.0,602.3 L590.0,602.0 L592.0,602.1 L593.9,602.6 L595.9,603.0 L597.9,603.2 L599.8,603.3 L601.8,603.5 L603.8,603.5 L605.7,602.9 L607.7,602.0 L609.7,601.6 L611.6,601.6 L613.6,601.0 L615.6,600.1 L617.6,600.0 L619.5,601.2 L621.5,602.7 L623.5,603.3 L625.4,603.1 L627.4,602.4 L629.4,601.8 L631.3,601.9 L633.3,602.8 L635.3,603.8 L637.2,604.1 L639.2,603.7 L641.2,603.0 L643.2,602.4 L645.1,601.8 L647.1,601.1 L649.1,600.5 L651.0,600.6 L653.0,601.2 L655.0,601.4 L656.9,601.0 L658.9,600.5 L660.9,600.4 L662.9,600.6 L664.8,600.5 L666.8,600.5 L668.8,600.7 L670.7,600.8 L672.7,600.4 L674.7,599.5 L676.6,599.0 L678.6,599.3 L680.6,600.3 L682.5,601.5 L684.5,602.3 L686.5,603.0 L688.5,603.9 L690.4,604.9 L692.4,605.4 L694.4,605.5 L696.3,605.3 L698.3,605.0 L700.3,604.7 L702.2,604.8 L704.2,605.0 L706.2,605.0 L708.1,604.8 L710.1,604.7 L712.1,605.2 L714.1,606.2 L716.0,607.1 L718.0,607.4 L720.0,607.4 L721.9,607.1 L723.9,606.6 L725.9,606.0 L727.8,605.8 L729.8,606.0 L731.8,606.2 L733.8,605.5 L735.7,604.7 L737.7,604.7 L739.7,605.8 L741.6,607.3 L743.6,608.5 L745.6,609.2 L747.5,609.5 L749.5,609.9 L751.5,610.3 L753.4,610.4 L755.4,610.4 L757.4,610.5 L759.4,610.6 L761.3,610.1 L763.3,609.5 L765.3,609.5 L767.2,609.8 L769.2,610.1 L771.2,610.1 L773.1,610.0 L775.1,609.4 L777.1,608.3 L779.0,607.6 L781.0,607.8 L783.0,608.1 L785.0,607.9 L786.9,607.7 L788.9,608.2 L790.9,609.5 L792.8,610.4 L794.8,610.3 L796.8,609.7 L798.7,609.5 L800.7,610.2 L802.7,611.2 L804.6,611.4 L806.6,610.9 L808.6,610.2 L810.6,610.1 L812.5,610.2 L814.5,609.8 L816.5,608.4 L818.4,607.0 L820.4,606.4 L822.4,607.1 L824.3,608.4 L826.3,609.8 L828.3,610.9 L830.3,611.3 L832.2,611.3 L834.2,611.2 L836.2,610.7 L838.1,610.1 L840.1,609.4 L842.1,608.7 L844.0,608.1 L846.0,607.5 L848.0,607.1 L849.9,607.2 L851.9,607.6 L853.9,607.9 L855.9,608.0 L857.8,607.9 L859.8,607.5 L861.8,606.8 L863.7,606.6 L865.7,607.5 L867.7,609.2 L869.6,610.3 L871.6,610.2 L873.6,609.5 L875.5,608.9 L877.5,608.6 L879.5,608.3 L881.5,607.9 L883.4,607.6 L885.4,607.6 L887.4,608.0 L889.3,608.8 L891.3,609.5 L893.3,610.4 L895.2,611.2 L897.2,611.7 L899.2,611.2 L901.1,610.2 L903.1,609.5 L905.1,609.3 L907.1,609.5 L909.0,609.7 L911.0,610.0 L913.0,610.0 L914.9,609.5 L916.9,608.5 L918.9,607.8 L920.8,607.4 L922.8,606.9 L924.8,606.3 L926.8,606.1 L928.7,606.3 L930.7,606.3 L932.7,606.4 L934.6,607.1 L936.6,608.2 L938.6,609.1 L940.5,609.4 L942.5,609.5 L944.5,609.1 L946.4,608.1 L948.4,606.9 L950.4,606.4 L952.4,607.0 L954.3,608.1 L956.3,609.2 L958.3,609.5 L960.2,609.3 L962.2,609.0 L964.2,608.6 L966.1,607.9 L968.1,606.7 L970.1,605.5 L972.0,604.9 L974.0,605.6 L976.0,607.5 L978.0,609.4 L979.9,610.4 L981.9,610.6 L983.9,610.6 L985.8,610.9 L987.8,611.0 L989.8,610.7"/>
<path class="c" stroke="#5a5a5a" d="M105.5,605.1 L107.5,605.8 L109.5,607.4 L111.4,608.7 L113.4,609.1 L115.4,608.9 L117.3,608.6 L119.3,608.1 L121.3,607.4 L123.2,606.5 L125.2,605.8 L127.2,605.3 L129.1,604.6 L131.1,603.5 L133.1,601.9 L135.1,600.1 L137.0,598.7 L139.0,597.6 L141.0,596.7 L142.9,595.2 L144.9,592.5 L146.9,588.5 L148.8,584.1 L150.8,581.7 L152.8,583.2 L154.7,587.5 L156.7,590.9 L158.7,592.4 L160.7,592.0 L162.6,587.0 L164.6,578.0 L166.6,576.4 L168.5,587.1 L170.5,599.1 L172.5,605.4 L174.4,607.0 L176.4,606.2 L178.4,604.2 L180.3,602.2 L182.3,601.8 L184.3,603.5 L186.3,606.4 L188.2,609.0 L190.2,610.2 L192.2,610.4 L194.1,610.1 L196.1,609.6 L198.1,608.5 L200.0,606.6 L202.0,604.3 L204.0,601.8 L206.0,599.9 L207.9,598.9 L209.9,598.2 L211.9,594.8 L213.8,586.3 L215.8,575.4 L217.8,568.9 L219.7,567.6 L221.7,566.9 L223.7,565.6 L225.6,559.6 L227.6,531.1 L229.6,460.4 L231.6,351.4 L233.5,247.5 L235.5,215.4 L237.5,280.5 L239.4,392.3 L241.4,488.1 L243.4,539.0 L245.3,547.7 L247.3,529.3 L249.3,497.3 L251.2,463.3 L253.2,440.5 L255.2,441.7 L257.2,472.1 L259.1,518.2 L261.1,557.9 L263.1,579.3 L265.0,585.0 L267.0,584.3 L269.0,584.7 L270.9,587.5 L272.9,589.4 L274.9,588.5 L276.8,585.9 L278.8,583.7 L280.8,583.4 L282.8,585.0 L284.7,587.8 L286.7,590.5 L288.7,591.8 L290.6,591.6 L292.6,591.1 L294.6,591.8 L296.5,593.8 L298.5,596.1 L300.5,597.9 L302.5,598.6 L304.4,595.8 L306.4,586.8 L308.4,574.1 L310.3,565.5 L312.3,566.6 L314.3,573.8 L316.2,581.7 L318.2,588.4 L320.2,594.6 L322.1,600.1 L324.1,604.5 L326.1,607.2 L328.1,608.2 L330.0,607.8 L332.0,606.6 L334.0,603.7 L335.9,596.7 L337.9,583.7 L339.9,566.1 L341.8,547.3 L343.8,525.4 L345.8,488.6 L347.7,425.6 L349.7,340.4 L351.7,263.2 L353.7,244.1 L355.6,301.0 L357.6,381.3 L359.6,423.9 L361.5,407.3 L363.5,360.3 L365.5,343.0 L367.4,386.9 L369.4,457.9 L371.4,515.4 L373.4,546.5 L375.3,557.5 L377.3,560.6 L379.3,566.6 L381.2,577.7 L383.2,588.6 L385.2,595.2 L387.1,598.3 L389.1,600.0 L391.1,600.8 L393.0,600.8 L395.0,600.0 L397.0,599.1 L399.0,598.3 L400.9,597.5 L402.9,596.8 L404.9,596.2 L406.8,596.0 L408.8,596.1 L410.8,596.7 L412.7,597.9 L414.7,599.6 L416.7,601.5 L418.6,602.6 L420.6,601.2 L422.6,595.7 L424.6,585.9 L426.5,573.2 L428.5,559.8 L430.5,546.9 L432.4,533.5 L434.4,517.5 L436.4,497.9 L438.3,475.4 L440.3,453.8 L442.3,442.4 L444.2,452.0 L446.2,479.5 L448.2,508.4 L450.2,529.4 L452.1,541.9 L454.1,541.0 L456.1,530.7 L458.0,528.9 L460.0,540.6 L462.0,554.9 L463.9,565.8 L465.9,575.3 L467.9,585.1 L469.9,593.5 L471.8,599.1 L473.8,602.4 L475.8,604.2 L477.7,605.0 L479.7,605.4 L481.7,605.8 L483.6,606.1 L485.6,606.2 L487.6,606.4 L489.5,606.8 L491.5,607.0 L493.5,606.9 L495.5,606.0 L497.4,604.2 L499.4,602.1 L501.4,601.1 L503.3,601.1 L505.3,600.9 L507.3,599.9 L509.2,598.6 L511.2,598.0 L513.2,597.8 L515.1,597.7 L517.1,597.9 L519.1,598.5 L521.1,599.7 L523.0,600.6 L525.0,600.7 L527.0,600.7 L528.9,601.5 L530.9,602.9 L532.9,604.7 L534.8,606.5 L536.8,608.1 L538.8,608.8 L540.7,608.6 L542.7,607.8 L544.7,607.2 L546.7,606.9 L548.6,606.7 L550.6,606.1 L552.6,604.9 L554.5,603.2 L556.5,601.8 L558.5,601.5 L560.4,602.6 L562.4,604.0 L564.4,605.1 L566.4,605.7 L568.3,606.2 L570.3,606.9 L572.3,607.7 L574.2,607.8 L576.2,606.6 L578.2,605.4 L580.1,604.9 L582.1,604.8 L584.1,604.4 L586.0,604.5 L588.0,605.3 L590.0,605.8 L592.0,604.7 L593.9,603.1 L595.9,602.9 L597.9,603.6 L599.8,603.8 L601.8,603.7 L603.8,603.3 L605.7,602.3 L607.7,600.8 L609.7,599.9 L611.6,600.4 L613.6,601.8 L615.6,603.2 L617.6,603.2 L619.5,602.0 L621.5,600.3 L623.5,598.3 L625.4,596.7 L627.4,596.2 L629.4,596.5 L631.3,597.0 L633.3,597.5 L635.3,597.9 L637.2,598.2 L639.2,598.7 L641.2,599.8 L643.2,600.6 L645.1,600.2 L647.1,598.9 L649.1,597.1 L651.0,594.8 L653.0,592.9 L655.0,592.8 L656.9,594.7 L658.9,597.3 L660.9,599.0 L662.9,599.2 L664.8,598.4 L666.8,598.0 L668.8,598.4 L670.7,599.3 L672.7,599.8 L674.7,599.3 L676.6,597.9 L678.6,596.3 L680.6,595.3 L682.5,595.7 L684.5,597.7 L686.5,600.2 L688.5,601.6 L690.4,601.4 L692.4,600.5 L694.4,599.8 L696.3,600.0 L698.3,600.9 L700.3,601.9 L702.2,603.0 L704.2,604.0 L706.2,604.5 L708.1,604.0 L710.1,603.3 L712.1,603.3 L714.1,604.2 L716.0,605.9 L718.0,608.0 L720.0,609.8 L721.9,610.7 L723.9,610.3 L725.9,608.7 L727.8,607.2 L729.8,606.7 L731.8,606.8 L733.8,606.6 L735.7,605.9 L737.7,604.7 L739.7,603.9 L741.6,604.0 L743.6,604.6 L745.6,605.2 L747.5,605.6 L749.5,605.7 L751.5,606.0 L753.4,606.8 L755.4,607.8 L757.4,608.2 L759.4,608.3 L761.3,608.7 L763.3,608.8 L765.3,608.2 L767.2,606.7 L769.2,605.3 L771.2,605.0 L773.1,605.7 L775.1,606.3 L777.1,606.0 L779.0,605.6 L781.0,606.1 L783.0,607.2 L785.0,607.7 L786.9,606.9 L788.9,605.2 L790.9,603.6 L792.8,602.8 L794.8,603.1 L796.8,604.1 L798.7,604.9 L800.7,605.3 L802.7,605.8 L804.6,607.1 L806.6,608.6 L808.6,609.6 L810.6,610.1 L812.5,610.8 L814.5,611.5 L816.5,611.7 L818.4,610.7 L820.4,608.7 L822.4,606.4 L824.3,604.9 L826.3,604.7 L828.3,605.6 L830.3,606.5 L832.2,606.4 L834.2,606.2 L836.2,607.4 L838.1,609.9 L840.1,611.6 L842.1,611.8 L844.0,611.4 L846.0,611.2 L848.0,611.5 L849.9,612.0 L851.9,611.8 L853.9,610.2 L855.9,608.1 L857.8,606.7 L859.8,606.8 L861.8,608.2 L863.7,610.5 L865.7,612.5 L867.7,612.9 L869.6,611.8 L871.6,609.7 L873.6,608.3 L875.5,608.7 L877.5,610.3 L879.5,611.3 L881.5,611.1 L883.4,611.0 L885.4,611.4 L887.4,611.2 L889.3,609.9 L891.3,608.9 L893.3,608.9 L895.2,609.5 L897.2,610.2 L899.2,610.5 L901.1,610.2 L903.1,609.7 L905.1,609.8 L907.1,610.2 L909.0,609.9 L911.0,609.0 L913.0,608.6 L914.9,609.0 L916.9,609.5 L918.9,609.8 L920.8,609.7 L922.8,609.2 L924.8,608.7 L926.8,608.9 L928.7,609.5 L930.7,609.5 L932.7,608.7 L934.6,608.3 L936.6,608.7 L938.6,609.0 L940.5,608.5 L942.5,607.4 L944.5,606.4 L946.4,605.9 L948.4,606.0 L950.4,606.7 L952.4,607.9 L954.3,609.2 L956.3,610.1 L958.3,610.1 L960.2,609.4 L962.2,608.3 L964.2,607.2 L966.1,606.8 L968.1,607.4 L970.1,608.8 L972.0,610.0 L974.0,610.2 L976.0,609.9 L978.0,609.5 L979.9,608.7 L981.9,607.0 L983.9,605.5 L985.8,604.9 L987.8,604.9 L989.8,604.5"/>
<path class="c" stroke="#3030ff" d="M105.5,601.0 L107.5,601.9 L109.5,604.8 L111.4,607.4 L113.4,608.6 L115.4,608.8 L117.3,608.4 L119.3,607.8 L121.3,607.2 L123.2,606.7 L125.2,606.0 L127.2,604.8 L129.1,603.3 L131.1,601.8 L133.1,600.4 L135.1,599.0 L137.0,597.9 L139.0,597.3 L141.0,597.2 L142.9,597.2 L144.9,596.5 L146.9,595.0 L148.8,593.3 L150.8,592.7 L152.8,594.3 L154.7,597.7 L156.7,600.7 L158.7,601.5 L160.7,597.0 L162.6,583.6 L164.6,565.7 L166.6,561.4 L168.5,577.1 L170.5,595.6 L172.5,605.6 L174.4,608.2 L176.4,607.5 L178.4,605.9 L180.3,604.6 L182.3,604.4 L184.3,605.3 L186.3,606.9 L188.2,608.5 L190.2,609.5 L192.2,609.7 L194.1,609.2 L196.1,608.5 L198.1,607.6 L200.0,606.3 L202.0,604.7 L204.0,602.9 L206.0,601.1 L207.9,599.7 L209.9,598.2 L211.9,594.2 L213.8,585.1 L215.8,573.6 L217.8,566.8 L219.7,565.9 L221.7,565.8 L223.7,564.8 L225.6,558.5 L227.6,528.5 L229.6,454.3 L231.6,340.1 L233.5,231.2 L235.5,197.5 L237.5,265.9 L239.4,383.6 L241.4,485.3 L243.4,541.2 L245.3,554.7 L247.3,540.7 L249.3,511.1 L251.2,475.3 L253.2,445.7 L255.2,439.1 L257.2,465.7 L259.1,512.9 L261.1,556.4 L263.1,581.9 L265.0,590.7 L267.0,591.9 L269.0,592.8 L270.9,595.1 L272.9,596.8 L274.9,596.6 L276.8,595.0 L278.8,593.2 L280.8,592.9 L282.8,594.7 L284.7,597.7 L286.7,600.5 L288.7,602.5 L290.6,603.8 L292.6,604.5 L294.6,604.9 L296.5,604.8 L298.5,604.3 L300.5,603.9 L302.5,602.7 L304.4,597.8 L306.4,586.9 L308.4,572.8 L310.3,563.7 L312.3,565.1 L314.3,573.2 L316.2,582.0 L318.2,589.3 L320.2,595.7 L322.1,601.3 L324.1,605.4 L326.1,607.7 L328.1,608.6 L330.0,608.5 L332.0,607.4 L334.0,604.0 L335.9,596.5 L337.9,583.5 L339.9,566.2 L341.8,547.6 L343.8,525.0 L345.8,486.2 L347.7,418.0 L349.7,324.5 L351.7,238.4 L353.7,215.8 L355.6,276.7 L357.6,364.2 L359.6,410.8 L361.5,393.0 L363.5,342.2 L365.5,324.0 L367.4,372.9 L369.4,451.7 L371.4,515.1 L373.4,548.0 L375.3,558.1 L377.3,560.3 L379.3,566.6 L381.2,579.0 L383.2,591.7 L385.2,599.8 L387.1,603.6 L389.1,605.6 L391.1,607.2 L393.0,608.7 L395.0,609.7 L397.0,610.1 L399.0,609.9 L400.9,609.1 L402.9,608.1 L404.9,607.4 L406.8,607.2 L408.8,607.4 L410.8,608.1 L412.7,608.8 L414.7,608.8 L416.7,608.2 L418.6,606.7 L420.6,603.6 L422.6,597.8 L424.6,588.8 L426.5,577.5 L428.5,565.3 L430.5,552.8 L432.4,539.0 L434.4,522.6 L436.4,503.5 L438.3,482.5 L440.3,463.0 L442.3,453.3 L444.2,463.4 L446.2,490.9 L448.2,521.3 L450.2,544.5 L452.1,557.6 L454.1,558.0 L456.1,550.9 L458.0,549.3 L460.0,556.6 L462.0,565.0 L463.9,571.5 L465.9,578.7 L467.9,587.3 L469.9,594.7 L471.8,599.2 L473.8,601.8 L475.8,603.4 L477.7,604.3 L479.7,604.8 L481.7,605.2 L483.6,605.8 L485.6,606.5 L487.6,607.1 L489.5,607.3 L491.5,606.6 L493.5,605.8 L495.5,605.6 L497.4,605.7 L499.4,605.5 L501.4,604.7 L503.3,603.8 L505.3,603.4 L507.3,603.5 L509.2,603.9 L511.2,604.4 L513.2,605.2 L515.1,606.4 L517.1,607.0 L519.1,606.6 L521.1,605.7 L523.0,605.2 L525.0,605.3 L527.0,605.5 L528.9,605.7 L530.9,605.6 L532.9,605.6 L534.8,605.8 L536.8,606.2 L538.8,606.4 L540.7,606.4 L542.7,606.1 L544.7,605.6 L546.7,605.4 L548.6,605.8 L550.6,606.5 L552.6,607.1 L554.5,607.2 L556.5,607.0 L558.5,607.1 L560.4,607.3 L562.4,607.0 L564.4,606.1 L566.4,604.9 L568.3,604.1 L570.3,604.4 L572.3,605.6 L574.2,606.9 L576.2,607.5 L578.2,607.1 L580.1,605.9 L582.1,604.4 L584.1,603.8 L586.0,604.2 L588.0,604.9 L590.0,605.3 L592.0,605.0 L593.9,604.1 L595.9,603.0 L597.9,602.4 L599.8,602.3 L601.8,602.3 L603.8,602.1 L605.7,601.8 L607.7,601.6 L609.7,601.5 L611.6,601.4 L613.6,601.1 L615.6,600.3 L617.6,599.2 L619.5,598.4 L621.5,598.8 L623.5,600.6 L625.4,602.8 L627.4,603.9 L629.4,603.5 L631.3,602.5 L633.3,601.6 L635.3,601.2 L637.2,600.6 L639.2,599.2 L641.2,597.5 L643.2,596.1 L645.1,595.3 L647.1,595.1 L649.1,595.5 L651.0,596.5 L653.0,597.3 L655.0,597.2 L656.9,596.2 L658.9,595.2 L660.9,595.3 L662.9,596.7 L664.8,598.4 L666.8,599.6 L668.8,599.9 L670.7,599.9 L672.7,600.9 L674.7,602.4 L676.6,603.3 L678.6,603.4 L680.6,603.5 L682.5,603.6 L684.5,603.3 L686.5,602.7 L688.5,602.0 L690.4,601.7 L692.4,601.5 L694.4,601.1 L696.3,600.6 L698.3,600.4 L700.3,601.4 L702.2,603.1 L704.2,604.4 L706.2,605.0 L708.1,605.1 L710.1,605.1 L712.1,605.1 L714.1,605.0 L716.0,605.0 L718.0,605.2 L720.0,605.5 L721.9,605.7 L723.9,605.6 L725.9,605.2 L727.8,604.8 L729.8,604.7 L731.8,604.5 L733.8,604.6 L735.7,605.1 L737.7,606.1 L739.7,607.3 L741.6,607.8 L743.6,607.6 L745.6,607.0 L747.5,606.4 L749.5,606.4 L751.5,606.7 L753.4,606.6 L755.4,606.2 L757.4,606.3 L759.4,607.5 L761.3,608.9 L763.3,609.4 L765.3,608.9 L767.2,608.0 L769.2,607.3 L771.2,607.1 L773.1,607.4 L775.1,607.7 L777.1,608.1 L779.0,608.5 L781.0,608.8 L783.0,609.0 L785.0,609.4 L786.9,610.0 L788.9,610.6 L790.9,610.7 L792.8,610.3 L794.8,610.1 L796.8,610.1 L798.7,609.9 L800.7,609.2 L802.7,608.5 L804.6,608.1 L806.6,608.0 L808.6,608.1 L810.6,608.4 L812.5,608.4 L814.5,608.3 L816.5,608.1 L818.4,608.4 L820.4,608.7 L822.4,608.5 L824.3,607.9 L826.3,607.7 L828.3,608.3 L830.3,608.8 L832.2,608.7 L834.2,608.3 L836.2,608.3 L838.1,608.5 L840.1,608.5 L842.1,607.8 L844.0,606.9 L846.0,606.5 L848.0,606.8 L849.9,607.4 L851.9,608.2 L853.9,608.9 L855.9,609.3 L857.8,609.1 L859.8,608.7 L861.8,608.6 L863.7,608.9 L865.7,609.6 L867.7,610.1 L869.6,609.6 L871.6,608.6 L873.6,607.9 L875.5,608.0 L877.5,608.3 L879.5,608.6 L881.5,608.9 L883.4,609.0 L885.4,608.2 L887.4,606.8 L889.3,605.6 L891.3,605.7 L893.3,607.0 L895.2,608.4 L897.2,609.0 L899.2,608.8 L901.1,608.3 L903.1,608.0 L905.1,608.5 L907.1,609.6 L909.0,610.4 L911.0,610.0 L913.0,609.1 L914.9,609.0 L916.9,609.7 L918.9,609.9 L920.8,608.9 L922.8,607.6 L924.8,606.9 L926.8,606.9 L928.7,607.2 L930.7,607.4 L932.7,607.5 L934.6,607.8 L936.6,608.8 L938.6,610.1 L940.5,610.9 L942.5,610.8 L944.5,610.1 L946.4,609.4 L948.4,608.6 L950.4,607.9 L952.4,607.8 L954.3,608.9 L956.3,610.5 L958.3,611.6 L960.2,612.1 L962.2,612.2 L964.2,611.8 L966.1,610.9 L968.1,609.9 L970.1,609.1 L972.0,608.2 L974.0,607.2 L976.0,606.7 L978.0,606.9 L979.9,607.1 L981.9,607.0 L983.9,606.7 L985.8,606.7 L987.8,607.2 L989.8,607.7"/>
</g>
<rect class="ax" x="76.2" y="18.4" width="916.0" height="594.9"/>
<path class="tkl" d="M167.8,613.3v-9.5 M167.8,18.4v9.5 M259.4,613.3v-9.5 M259.4,18.4v9.5 M351.0,613.3v-9.5 M351.0,18.4v9.5 M442.6,613.3v-9.5 M442.6,18.4v9.5 M534.2,613.3v-9.5 M534.2,18.4v9.5 M625.8,613.3v-9.5 M625.8,18.4v9.5 M717.4,613.3v-9.5 M717.4,18.4v9.5 M809.0,613.3v-9.5 M809.0,18.4v9.5 M900.6,613.3v-9.5 M900.6,18.4v9.5 M76.2,528.3h9.5 M992.2,528.3h-9.5 M76.2,443.3h9.5 M992.2,443.3h-9.5 M76.2,358.3h9.5 M992.2,358.3h-9.5 M76.2,273.4h9.5 M992.2,273.4h-9.5 M76.2,188.4h9.5 M992.2,188.4h-9.5 M76.2,103.4h9.5 M992.2,103.4h-9.5"/>
<text class="tk" x="75.0" y="640.6" text-anchor="middle">800</text>
<text class="tk" x="166.6" y="640.6" text-anchor="middle">1000</text>
<text class="tk" x="258.2" y="640.6" text-anchor="middle">1200</text>
<text class="tk" x="349.8" y="640.6" text-anchor="middle">1400</text>
<text class="tk" x="441.4" y="640.6" text-anchor="middle">1600</text>
<text class="tk" x="533.0" y="640.6" text-anchor="middle">1800</text>
<text class="tk" x="624.6" y="640.6" text-anchor="middle">2000</text>
<text class="tk" x="716.2" y="640.6" text-anchor="middle">2200</text>
<text class="tk" x="807.8" y="640.6" text-anchor="middle">2400</text>
<text class="tk" x="899.4" y="640.6" text-anchor="middle">2600</text>
<text class="tk" x="991.0" y="640.6" text-anchor="middle">2800</text>
<text class="tk" x="71.0" y="621.3" text-anchor="end">0</text>
<text class="tk" x="71.0" y="536.3" text-anchor="end">10</text>
<text class="tk" x="71.0" y="451.3" text-anchor="end">20</text>
<text class="tk" x="71.0" y="366.3" text-anchor="end">30</text>
<text class="tk" x="71.0" y="281.4" text-anchor="end">40</text>
<text class="tk" x="71.0" y="196.4" text-anchor="end">50</text>
<text class="tk" x="71.0" y="111.4" text-anchor="end">60</text>
<text class="tk" x="71.0" y="26.4" text-anchor="end">70</text>
<text class="lb" x="465" y="670.3" textLength="204" lengthAdjust="spacingAndGlyphs">Raman Shift (cm<tspan font-size="15" dy="-9">-1</tspan><tspan dy="9">)</tspan></text>
<text class="lb" transform="translate(32.9,362.3) rotate(-90)" textLength="190.5" lengthAdjust="spacingAndGlyphs">Relative Intensity</text>
<text class="pk" transform="translate(159.9,506.3) rotate(-90)" textLength="31.0" lengthAdjust="spacingAndGlyphs">966</text>
<text class="pk" transform="translate(173.9,549.3) rotate(-90)" textLength="30.2" lengthAdjust="spacingAndGlyphs">997</text>
<text class="pk" transform="translate(237.5,188.5) rotate(-90)" textLength="40.2" lengthAdjust="spacingAndGlyphs">1147</text>
<text class="pk" transform="translate(260.8,315.5) rotate(-90)" textLength="43.0" lengthAdjust="spacingAndGlyphs">1190</text>
<text class="pk" transform="translate(260.8,363.9) rotate(-90)" textLength="39.9" lengthAdjust="spacingAndGlyphs">1186</text>
<text class="pk" transform="translate(284.7,439.2) rotate(-90)" textLength="39.5" lengthAdjust="spacingAndGlyphs">1252</text>
<text class="pk" transform="translate(316.8,524.7) rotate(-90)" textLength="40.1" lengthAdjust="spacingAndGlyphs">1313</text>
<text class="pk" transform="translate(359.4,195.5) rotate(-90)" textLength="39.6" lengthAdjust="spacingAndGlyphs">1406</text>
<text class="pk" transform="translate(374.0,309.9) rotate(-90)" textLength="39.2" lengthAdjust="spacingAndGlyphs">1433</text>
<text class="pk" transform="translate(452.2,88.7) rotate(-90)" textLength="39.9" lengthAdjust="spacingAndGlyphs">1603</text>
<text class="pk" transform="translate(465.7,195.1) rotate(-90)" textLength="38.7" lengthAdjust="spacingAndGlyphs">1630</text>
<rect x="879.0" y="17.6" width="113.0" height="232.0" fill="#fff" stroke="#111" stroke-width="1.3"/>
<path d="M887.3,33.4H934.2" stroke="#0000ff" stroke-width="1.4" fill="none"/>
<text class="lg" x="939.0" y="40.6">0.01%</text>
<path d="M887.3,62.0H934.2" stroke="#0a8a0a" stroke-width="1.4" fill="none"/>
<text class="lg" x="939.0" y="69.2">1%</text>
<path d="M887.3,90.5H934.2" stroke="#ff1a1a" stroke-width="1.4" fill="none"/>
<text class="lg" x="939.0" y="97.7">5%</text>
<path d="M887.3,119.1H934.2" stroke="#6a6a4c" stroke-width="1.4" fill="none"/>
<text class="lg" x="939.0" y="126.3">10%</text>
<path d="M887.3,147.6H934.2" stroke="#cc00cc" stroke-width="1.4" fill="none"/>
<text class="lg" x="939.0" y="154.8">15%</text>
<path d="M887.3,176.2H934.2" stroke="#c8c800" stroke-width="1.4" fill="none"/>
<text class="lg" x="939.0" y="183.3">20%</text>
<path d="M887.3,204.7H934.2" stroke="#5a5a5a" stroke-width="1.4" fill="none"/>
<text class="lg" x="939.0" y="211.9">25%</text>
<path d="M887.3,233.2H934.2" stroke="#3030ff" stroke-width="1.4" fill="none"/>
<text class="lg" x="939.0" y="240.4">30%</text>
</svg></body></html>
